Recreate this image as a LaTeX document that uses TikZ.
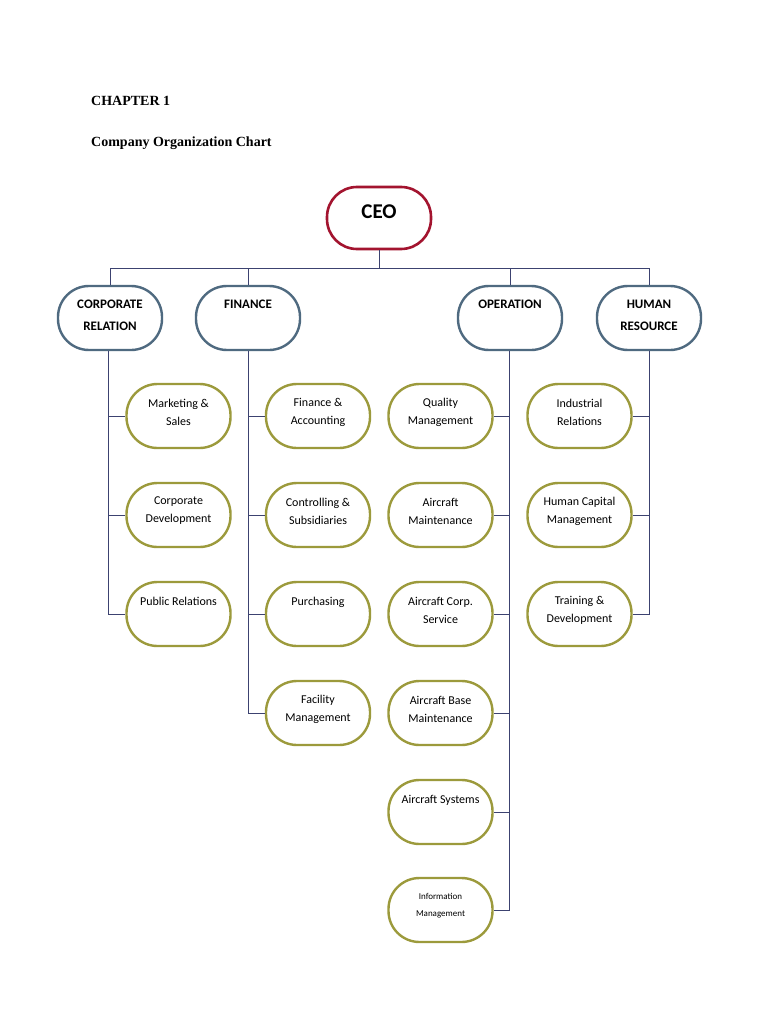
\documentclass[tikz,border=0pt]{standalone}
\usepackage{fontspec}
\setmainfont{Carlito}
\newfontfamily\headfont{Liberation Serif}
\usetikzlibrary{positioning}

\definecolor{ceored}{HTML}{A3142F}
\definecolor{deptblue}{HTML}{4F6A80}
\definecolor{unitolive}{HTML}{9C9A3C}
\definecolor{wire}{HTML}{3C4270}

\begin{document}
\begin{tikzpicture}[x=1pt,y=-1pt]
   \tikzset{ceo node/.style={rectangle, draw=ceored, line width=2.6pt,
   		rounded corners=30pt, minimum width=104pt, minimum height=62pt,
   		font=\fontsize{21}{24}\selectfont\bfseries, fill=white,
   		label={[font=\fontsize{21}{24}\selectfont\bfseries]center:#1}}, }
   \tikzset{dept node/.style={rectangle, draw=deptblue, line width=2.4pt,
   		rounded corners=31pt, minimum width=104pt, minimum height=64pt,
   		align=center, font=\fontsize{13}{22}\selectfont\bfseries, fill=white}, }
   \tikzset{unit node/.style={rectangle, draw=unitolive, line width=2.4pt,
   		rounded corners=31pt, minimum width=104pt, minimum height=64pt,
   		align=center, font=\fontsize{12}{18}\selectfont, fill=white}, }
   \tikzset{linea/.style={draw=wire, line width=0.7pt},}
   \tikzset{lift/.style={yshift=4pt},}
   \useasboundingbox[fill=white] (0,0) rectangle (768,1024);

\node[anchor=base west, inner sep=0pt, font=\headfont\fontsize{14}{16}\selectfont\bfseries] (title1) at (91,106) {CHAPTER 1};
\node[anchor=base west, inner sep=0pt, font=\headfont\fontsize{14}{16}\selectfont\bfseries] (title2) at (91,147) {Company Organization Chart};

\node[ceo node={}] (ceo) at (379,218) {};
\node[font=\fontsize{21}{24}\selectfont\bfseries] (ceotext) at (379,212) {CEO};
\node[dept node] (crp) at (110,318) {};
\node[dept node] (fin) at (248,318) {};
\node[dept node] (opr) at (510,318) {};
\node[dept node] (hrs) at (649,318) {};
\foreach \d/\t in {crp/CORPORATE\\RELATION, fin/FINANCE\\\mbox{}, opr/OPERATION\\\mbox{}, hrs/HUMAN\\RESOURCE}
{\node[align=center, font=\fontsize{13}{22}\selectfont\bfseries] (\d text) at ([yshift=3pt]\d.center) {\t};
\draw[linea] (ceo.south) -- ++(0,18) -| (\d.north);}

% corporate relation
\foreach \i/\t in {1/Marketing \&\\Sales, 2/Corporate\\Development, 3/Public Relations\\\mbox{}}
{\node[unit node] (cr\i) at (178.5,{416+99*(\i-1)}) {};
\node[align=center, font=\fontsize{12}{18}\selectfont] (cr\i text) at ([lift]cr\i.center) {\t};
\draw[linea] (108,351) |- (cr\i.west);}
% finance
\foreach \i/\t in {1/Finance \&\\Accounting, 2/Controlling \&\\Subsidiaries, 3/Purchasing\\\mbox{}, 4/Facility\\Management}
{\node[unit node] (fi\i) at (318,{416+99*(\i-1)}) {};
\node[align=center, font=\fontsize{12}{18}\selectfont] (fi\i text) at ([lift]fi\i.center) {\t};
\draw[linea] (fin.south) |- (fi\i.west);}
% operation
\foreach \i/\t in {1/Quality\\Management, 2/Aircraft\\Maintenance, 3/Aircraft Corp.\\Service, 4/Aircraft Base\\Maintenance, 5/Aircraft Systems\\\mbox{}}
{\node[unit node] (op\i) at (440.5,{416+99*(\i-1)}) {};
\node[align=center, font=\fontsize{12}{18}\selectfont] (op\i text) at ([lift]op\i.center) {\t};
\draw[linea] (509,351) |- (op\i.east);}
\node[unit node] (op6) at (440.5,910) {};
\node[align=center, font=\fontsize{9}{17}\selectfont] (op6text) at ([lift]op6.center) {Information\\Management};
\draw[linea] (509,351) |- (op6.east);
% human resource
\foreach \i/\t in {1/Industrial\\Relations, 2/Human Capital\\Management, 3/Training \&\\Development}
{\node[unit node] (hr\i) at (579.5,{416+99*(\i-1)}) {};
\node[align=center, font=\fontsize{12}{18}\selectfont] (hr\i text) at ([lift]hr\i.center) {\t};
\draw[linea] (hrs.south) |- (hr\i.east);}
\end{tikzpicture}
\end{document}
